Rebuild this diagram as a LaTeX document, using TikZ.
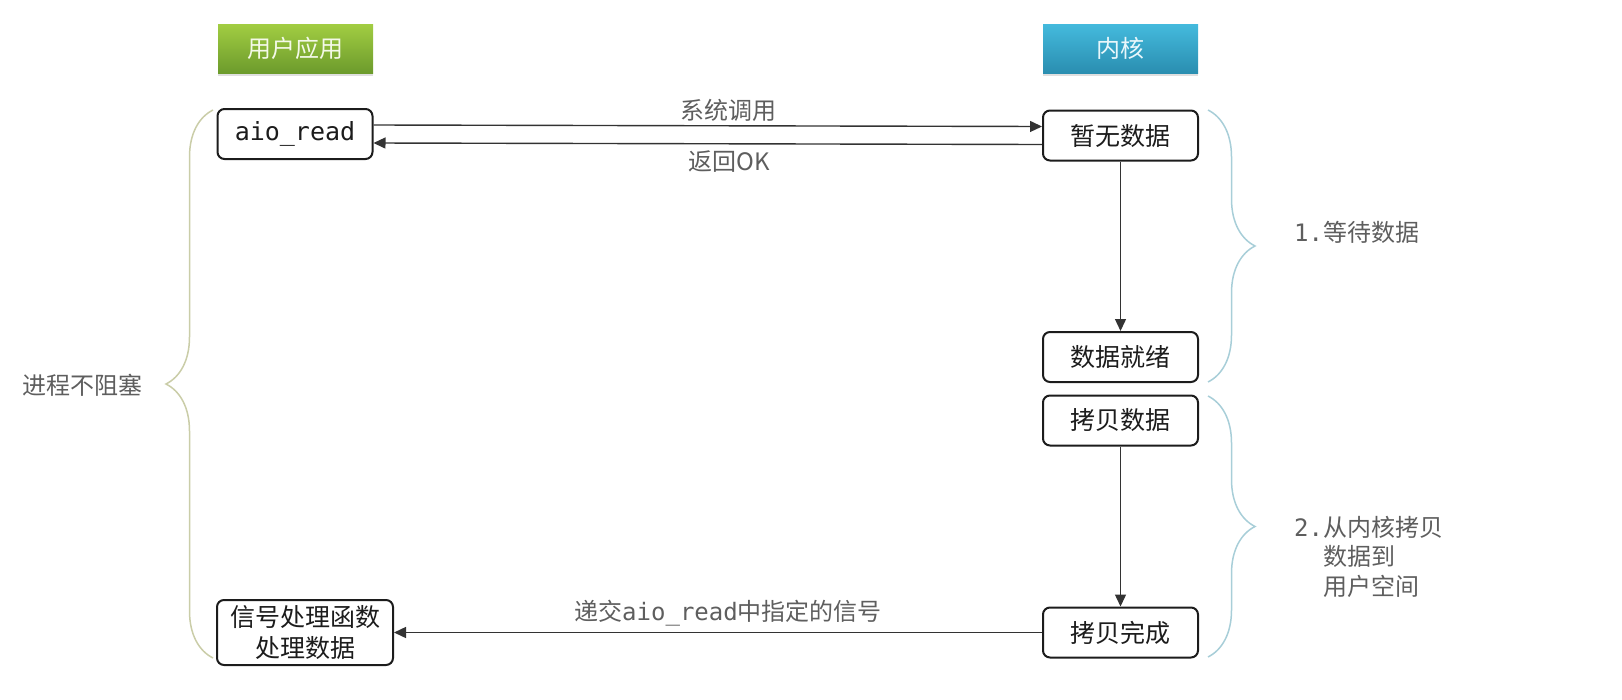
\documentclass[tikz,border=0pt]{standalone}
\usepackage{fontspec}
\setmainfont{Noto Sans CJK SC}
\newfontfamily\mono{DejaVu Sans Mono}
\usetikzlibrary{arrows.meta,decorations.pathreplacing,shadows}
\definecolor{greentop}{HTML}{A2CD42}
\definecolor{greenbot}{HTML}{6C9B2C}
\definecolor{bluetop}{HTML}{44BADD}
\definecolor{bluebot}{HTML}{2A8EB0}
\definecolor{boxline}{HTML}{1C1C1C}
\definecolor{flowline}{HTML}{333333}
\definecolor{lbltext}{HTML}{5E5E5E}
\definecolor{leftbrace}{HTML}{CACDA8}
\definecolor{rightbrace}{HTML}{A8CED8}
\tikzset{
  >={Triangle[length=12pt,width=11pt]},
  box/.style={draw=boxline,line width=2pt,rounded corners=7pt,fill=white,
    minimum width=155pt,minimum height=50pt,inner sep=0pt,text=boxline,
    font=\fontsize{25}{30}\selectfont},
  head/.style={minimum width=155pt,minimum height=49pt,inner sep=0pt,
    font=\fontsize{24}{28}\selectfont,
    drop shadow={shadow xshift=0pt,shadow yshift=-3pt,opacity=0.25}},
  lbl/.style={text=lbltext,inner sep=0pt,font=\fontsize{24}{29.5}\selectfont},
  flow/.style={->,draw=flowline,line width=1.4pt},
  curly/.style={decorate,decoration={brace,amplitude=47pt},line width=1.5pt}
}
\begin{document}
\begin{tikzpicture}[x=1pt,y=-1pt]
\useasboundingbox (0,0) rectangle (1622,699);
% column heads
\node[head,top color=greentop,bottom color=greenbot,text=white!88!greentop] (app) at (295.5,48.5) {用户应用};
\node[head,top color=bluetop,bottom color=bluebot,text=white!88!bluetop] (kern) at (1120.5,48.5) {内核};
% user side
\node[box] (aio) at (295,134) {\mono aio\_read};
\node[box,minimum width=176pt,minimum height=65pt,align=center,
  font=\fontsize{25}{31}\selectfont] (sig) at (305,632.5) {信号处理函数\\处理数据};
% kernel side
\node[box] (nodata) at (1120.5,135.5) {暂无数据};
\node[box] (ready) at (1120.5,357) {数据就绪};
\node[box] (copy) at (1120.5,420.5) {拷贝数据};
\node[box] (done) at (1120.5,632.5) {拷贝完成};
\draw[flow] ([yshift=9pt]aio.east) -- ([yshift=9pt]nodata.west);
\draw[flow] ([yshift=-9pt]nodata.west) -- ([yshift=-9pt]aio.east);
\draw[flow] (nodata) -- (ready);
\draw[flow] (copy) -- (done);
\draw[flow] (done) -- (sig);
\node[lbl] (call) at (728,110) {系统调用};
\node[lbl] (ret) at (729,162) {返回OK};
\node[lbl] (deliver) at (728,613) {递交{\mono aio\_read}中指定的信号};
% braces
\coordinate (lbtop) at (213,110);
\coordinate (lbbot) at (213,658);
\coordinate (rb1top) at (1208,110);
\coordinate (rb1bot) at (1208,382);
\coordinate (rb2top) at (1208,396);
\coordinate (rb2bot) at (1208,657);
\draw[curly,leftbrace] (lbbot) -- (lbtop);
\draw[curly,rightbrace] (rb1top) -- (rb1bot);
\draw[curly,rightbrace] (rb2top) -- (rb2bot);
\node[lbl] (block) at (83,385) {进程不阻塞};
\node[lbl,anchor=west] (wait) at (1294,232) {{\mono 1.}等待数据};
\node[lbl,anchor=north west,align=left] (copyto) at (1294,516)
  {{\mono 2.}从内核拷贝\\{\mono\phantom{2.}}数据到\\{\mono\phantom{2.}}用户空间};
\end{tikzpicture}
\end{document}
